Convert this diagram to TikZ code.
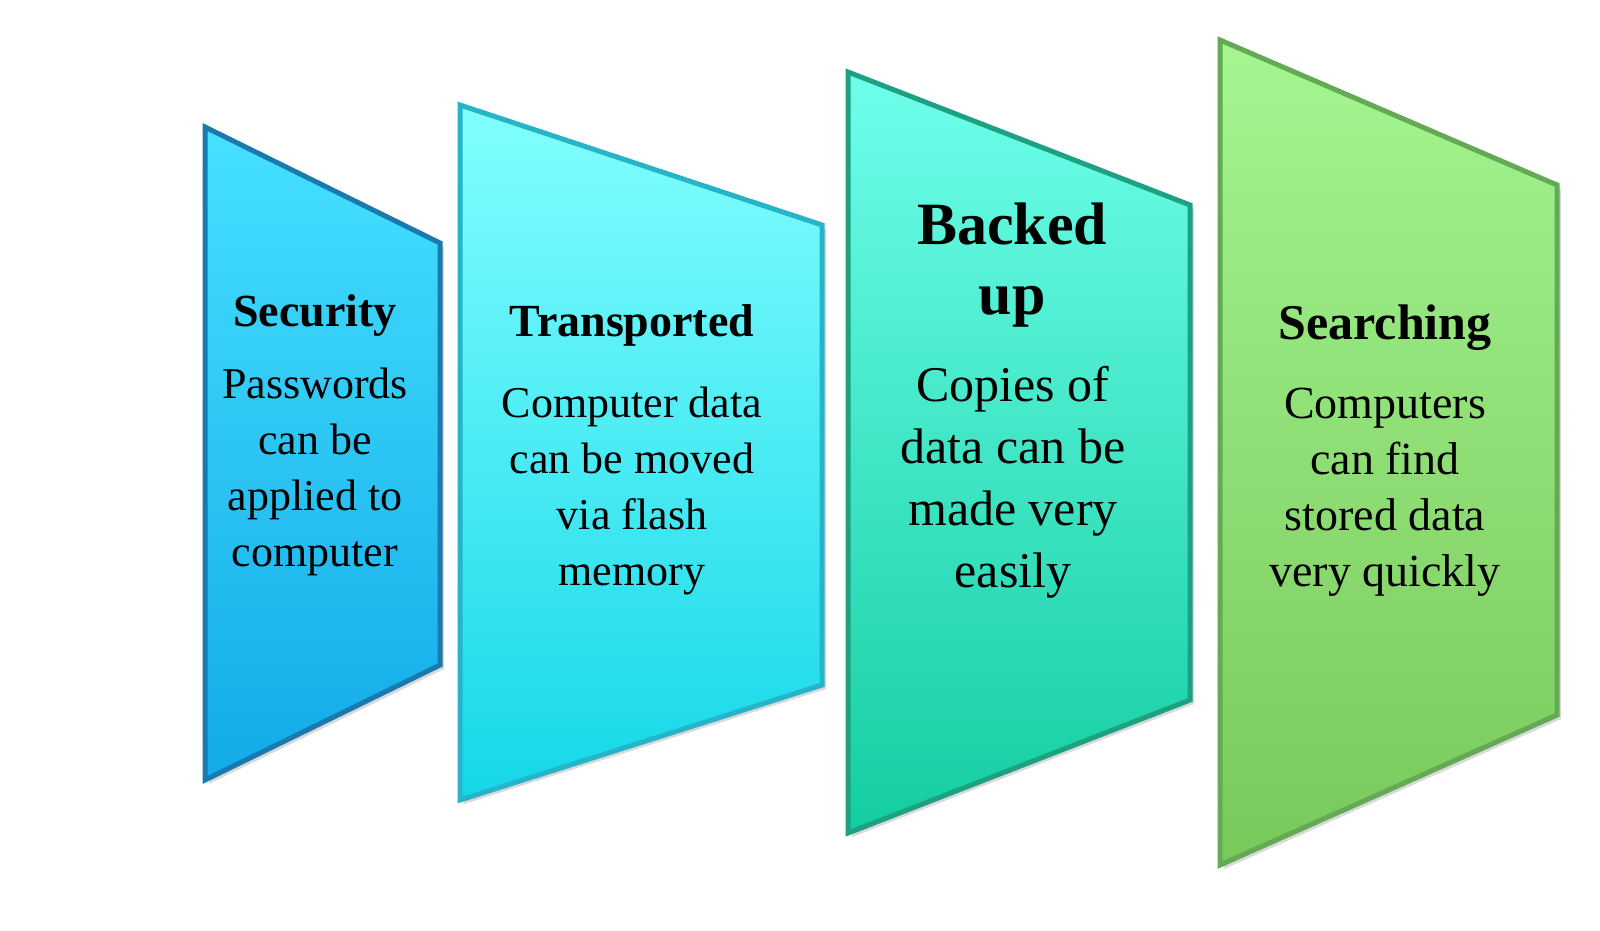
\documentclass[tikz,border=0pt]{standalone}
\usepackage{fontspec}
\setmainfont{Liberation Serif}
\usetikzlibrary{shadows}
\begin{document}
\begin{tikzpicture}[x=1pt,y=-1pt,
  panel/.style={line width=5pt,line join=miter,drop shadow={shadow xshift=4pt,shadow yshift=-4pt,opacity=0.3}},
  ttl/.style={font=\fontsize{46}{50}\selectfont\bfseries,align=center},
  body/.style={font=\fontsize{44}{56}\selectfont,align=center}]
\useasboundingbox (0,0) rectangle (1600,930);
\path[panel,draw={rgb,255:red,26;green,122;blue,176},top color={rgb,255:red,70;green,225;blue,255},bottom color={rgb,255:red,18;green,170;blue,232}]
 (205,127) -- (440,243) -- (440,665) -- (205,780) -- cycle;
\path[panel,draw={rgb,255:red,40;green,180;blue,200},top color={rgb,255:red,130;green,255;blue,255},bottom color={rgb,255:red,20;green,215;blue,232}]
 (460,105) -- (822,225) -- (822,685) -- (460,800) -- cycle;
\path[panel,draw={rgb,255:red,30;green,160;blue,130},top color={rgb,255:red,110;green,255;blue,235},bottom color={rgb,255:red,20;green,205;blue,160}]
 (848,72) -- (1190,205) -- (1190,700) -- (848,833) -- cycle;
\path[panel,draw={rgb,255:red,100;green,170;blue,85},top color={rgb,255:red,165;green,245;blue,145},bottom color={rgb,255:red,120;green,200;blue,90}]
 (1220,40) -- (1557,185) -- (1557,715) -- (1220,865) -- cycle;
\node[ttl] (t1) at (315,315) {Security};
\node[body] (b1) at (315,472) {Passwords\\can be\\applied to\\computer};
\node[ttl] (t2) at (632,325) {Transported};
\node[body] (b2) at (632,491) {Computer data\\can be moved\\via flash\\memory};
\node[ttl,font=\fontsize{60}{70}\selectfont\bfseries] (t3) at (1012,265) {Backed\\up};
\node[body,font=\fontsize{50}{62}\selectfont] (b3) at (1013,482) {Copies of\\data can be\\made very\\easily};
\node[ttl,font=\fontsize{50}{55}\selectfont\bfseries] (t4) at (1385,328) {Searching};
\node[body,font=\fontsize{46}{56}\selectfont] (b4) at (1385,492) {Computers\\can find\\stored data\\very quickly};
\end{tikzpicture}
\end{document}
